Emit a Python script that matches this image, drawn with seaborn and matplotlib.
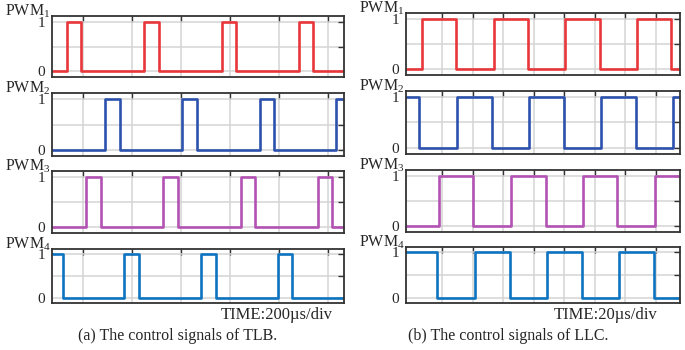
import numpy as np
import pandas as pd
import matplotlib.pyplot as plt
import seaborn as sns

sns.set_style('white')
plt.rcParams['font.family'] = ['Liberation Serif', 'DejaVu Serif']
plt.rcParams['mathtext.fontset'] = 'custom'
plt.rcParams['mathtext.rm'] = 'Liberation Serif'
plt.rcParams['mathtext.it'] = 'Liberation Serif:italic'

# ------------------------------------------------------------
# Data: step waveforms (edge times, level after each edge)
# ------------------------------------------------------------
# (a) TLB, time in us
tlb_pwm1_t = [73.5, 135, 192, 449, 510, 767, 824, 1082, 1139, 1265]
tlb_pwm1_v = [0, 1, 0, 1, 0, 1, 0, 1, 0, 0]
tlb_pwm2_t = [73.5, 290, 351, 604, 665, 922, 980, 1233, 1265]
tlb_pwm2_v = [0, 1, 0, 1, 0, 1, 0, 1, 1]
tlb_pwm3_t = [73.5, 212, 273, 527, 588, 845, 902, 1159, 1216, 1265]
tlb_pwm3_v = [0, 1, 0, 1, 0, 1, 0, 1, 0, 0]
tlb_pwm4_t = [73.5, 118, 367, 429, 682, 743, 996, 1053, 1265]
tlb_pwm4_v = [1, 0, 1, 0, 1, 0, 1, 0, 0]

# (b) LLC, time in us
llc_pwm1_t = [-3.6, 6.7, 29.2, 54.1, 76.4, 100.7, 123.6, 147.9, 170.2, 176]
llc_pwm1_v = [0, 1, 0, 1, 0, 1, 0, 1, 0, 0]
llc_pwm2_t = [-3.6, 5.1, 29.6, 52.6, 77.0, 100.0, 124.3, 147.0, 171.6, 176]
llc_pwm2_v = [1, 0, 1, 0, 1, 0, 1, 0, 1, 1]
llc_pwm3_t = [-3.6, 18.0, 40.5, 65.0, 88.0, 112.2, 134.9, 159.7, 176]
llc_pwm3_v = [0, 1, 0, 1, 0, 1, 0, 1, 1]
llc_pwm4_t = [-3.6, 16.9, 41.6, 64.6, 88.6, 111.5, 136.2, 158.9, 176]
llc_pwm4_v = [1, 0, 1, 0, 1, 0, 1, 0, 0]

tlb_ticks = [200, 400, 600, 800, 1000, 1200]
llc_ticks = [20, 40, 60, 80, 100, 120, 140, 160]

pwm_labels = [r'$\mathrm{PWM}_1$', r'$\mathrm{PWM}_2$', r'$\mathrm{PWM}_3$', r'$\mathrm{PWM}_4$']
colors = ['#e8373b', '#2d52ad', '#b352b3', '#0e74c0']

tlb_signals = [(tlb_pwm1_t, tlb_pwm1_v), (tlb_pwm2_t, tlb_pwm2_v),
               (tlb_pwm3_t, tlb_pwm3_v), (tlb_pwm4_t, tlb_pwm4_v)]
llc_signals = [(llc_pwm1_t, llc_pwm1_v), (llc_pwm2_t, llc_pwm2_v),
               (llc_pwm3_t, llc_pwm3_v), (llc_pwm4_t, llc_pwm4_v)]

# ------------------------------------------------------------
# Layout (pixel boxes)
# ------------------------------------------------------------
W, H = 685, 350
fig = plt.figure(figsize=(W / 100, H / 100), dpi=100)


def px_axes(left, top, right, bottom):
    return fig.add_axes([left / W, 1 - bottom / H, (right - left) / W, (bottom - top) / H])


left_rows = [(16, 77), (93, 156), (171, 233), (249, 303)]
right_rows = [(13, 75), (91, 154), (170, 232), (247, 303)]


def draw_panel(x0, x1, rows, signals, xlim, ticks):
    for i, ((t, v), (top, bot)) in enumerate(zip(signals, rows)):
        ax = px_axes(x0, top, x1, bot)
        sns.lineplot(x=t, y=v, ax=ax, drawstyle='steps-post', color=colors[i],
                     lw=1.9, sort=False, estimator=None)
        ax.set_xlim(*xlim)
        ax.set_ylim(-0.12, 1.12)
        ax.set_xticks(ticks)
        ax.set_xticklabels([])
        ax.set_yticks([0, 0.5, 1])
        ax.set_yticklabels(['0', '', '1'], fontsize=11)
        ax.set_xlabel('')
        ax.set_ylabel('')
        ax.tick_params(direction='in', top=True, right=True, length=4, width=1,
                       color='#333333', pad=5)
        ax.grid(True, color='#d4d4d4', lw=1.1)
        ax.set_axisbelow(True)
        for sp in ax.spines.values():
            sp.set_visible(True)
            sp.set_color('#333333')
            sp.set_linewidth(1.3)
        ax.text(-0.005, 1.01, pwm_labels[i], transform=ax.transAxes,
                ha='right', va='baseline', fontsize=11.5)


draw_panel(52, 344, left_rows, tlb_signals, (73.5, 1265), tlb_ticks)
draw_panel(406, 680, right_rows, llc_signals, (-3.6, 176), llc_ticks)

fig.text(333 / W, 1 - 315 / H, 'TIME:200µs/div', ha='right', va='center', fontsize=12)
fig.text(657 / W, 1 - 315 / H, 'TIME:20µs/div', ha='right', va='center', fontsize=12)
fig.text(178 / W, 1 - 336 / H, '(a) The control signals of TLB.', ha='center', va='center', fontsize=11.5)
fig.text(508 / W, 1 - 336 / H, '(b) The control signals of LLC.', ha='center', va='center', fontsize=11.5)

plt.savefig('out.png', dpi=100)
